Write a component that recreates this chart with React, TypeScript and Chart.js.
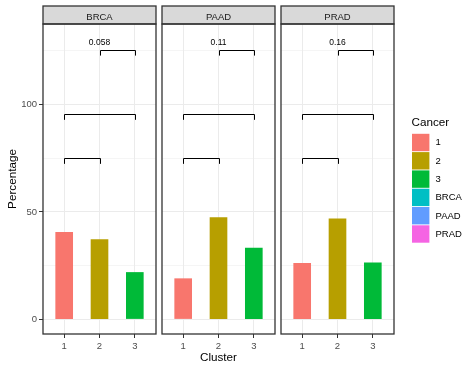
import React, { useEffect, useRef } from 'react';
import { Chart, registerables } from 'chart.js';
Chart.register(...registerables);

// ---------- data ----------
const cancers = ['BRCA', 'PAAD', 'PRAD'];
const clusters = [1, 2, 3];
const brcaValues = [40.7, 37.3, 22.0];
const paadValues = [19.1, 47.6, 33.3];
const pradValues = [26.2, 47.0, 26.5];
const clusterColors = ['#F8766D', '#B79F00', '#00BA38'];
const legendLabels = ['1', '2', '3', 'BRCA', 'PAAD', 'PRAD'];
const legendColors = ['#F8766D', '#B79F00', '#00BA38', '#00BFC4', '#619CFF', '#F564E3'];
const yTicks = [0, 25, 50, 75, 100, 125];
const comparisons = [[1, 2], [1, 3], [2, 3]];
const bracketY = [75, 95.5, 125.4];
const bracketTip = 2.6;
const pValueLabels = ['0.058', '0.11', '0.16'];
const pLabelX = 2;
const pLabelY = 129;
const yMin = -6.8;
const yMax = 137.5;
const xMin = 0.4;
const xMax = 3.6;

const panelValues = [brcaValues, paadValues, pradValues];

// ---------- layout ----------
const W = 474;
const H = 370;
const panelLefts = [43, 162, 281];
const panelWidth = 113;
const panelTop = 24;
const panelBottom = 334;
const stripTop = 6;
const FONT = "'Liberation Sans', Arial, Helvetica, sans-serif";

function makePlugin(i: number) {
  return {
    id: 'facet' + i,
    afterDatasetsDraw(chart: any) {
      const { ctx } = chart;
      const x = chart.scales.x;
      const y = chart.scales.y;
      ctx.save();
      ctx.strokeStyle = '#000000';
      ctx.lineWidth = 1;
      comparisons.forEach(([a, b], k) => {
        const x1 = Math.round(x.getPixelForValue(a)) + 0.5;
        const x2 = Math.round(x.getPixelForValue(b)) + 0.5;
        const yy = Math.round(y.getPixelForValue(bracketY[k])) + 0.5;
        const yt = y.getPixelForValue(bracketY[k] - bracketTip);
        ctx.beginPath();
        ctx.moveTo(x1, yt);
        ctx.lineTo(x1, yy);
        ctx.lineTo(x2, yy);
        ctx.lineTo(x2, yt);
        ctx.stroke();
      });
      ctx.fillStyle = '#000000';
      ctx.font = `8.5px ${FONT}`;
      ctx.textAlign = 'center';
      ctx.textBaseline = 'middle';
      ctx.fillText(pValueLabels[i], x.getPixelForValue(pLabelX), y.getPixelForValue(pLabelY));
      ctx.restore();
    },
    afterDraw(chart: any) {
      const { ctx, chartArea } = chart;
      const { left, right, top, bottom } = chartArea;
      ctx.save();
      // strip
      ctx.fillStyle = '#D9D9D9';
      ctx.fillRect(left, stripTop, right - left, top - stripTop);
      ctx.strokeStyle = '#333333';
      ctx.lineWidth = 1.3;
      ctx.strokeRect(left, stripTop, right - left, top - stripTop);
      ctx.fillStyle = '#1A1A1A';
      ctx.font = `9.5px ${FONT}`;
      ctx.textAlign = 'center';
      ctx.textBaseline = 'alphabetic';
      ctx.fillText(cancers[i], (left + right) / 2, 19.5);
      // panel border
      ctx.strokeRect(left, top, right - left, bottom - top);

      if (i === 0) {
        // axis titles
        ctx.fillStyle = '#000000';
        ctx.font = `11.7px ${FONT}`;
        ctx.textAlign = 'center';
        ctx.textBaseline = 'middle';
        const midX = (panelLefts[0] + panelLefts[2] + panelWidth) / 2;
        ctx.fillText('Cluster', midX, 358);
        ctx.save();
        ctx.translate(13, (top + bottom) / 2);
        ctx.rotate(-Math.PI / 2);
        ctx.fillText('Percentage', 0, 0);
        ctx.restore();
        // legend
        ctx.textAlign = 'left';
        ctx.fillText('Cancer', 411.5, 123);
        ctx.font = `9.5px ${FONT}`;
        legendLabels.forEach((lab, k) => {
          const ky = 133.8 + k * 18.3;
          ctx.fillStyle = legendColors[k];
          ctx.fillRect(412, ky, 17.4, 17.4);
          ctx.fillStyle = '#000000';
          ctx.fillText(lab, 435.5, ky + 8.9);
        });
      }
      ctx.restore();
    },
  };
}

function Panel({ index }: { index: number }) {
  const ref = useRef<HTMLCanvasElement | null>(null);
  useEffect(() => {
    if (!ref.current) return;
    const first = index === 0;
    const chart = new Chart(ref.current, {
      type: 'bar',
      data: {
        datasets: [
          {
            data: clusters.map((c, j) => ({ x: c, y: panelValues[index][j] })) as any,
            backgroundColor: clusterColors,
            borderWidth: 0,
            categoryPercentage: 1,
            barPercentage: 0.5,
          },
        ],
      },
      options: {
        responsive: false,
        animation: false,
        devicePixelRatio: 1,
        layout: {
          padding: {
            left: first ? 0 : panelLefts[index],
            right: W - (panelLefts[index] + panelWidth),
            top: panelTop,
            bottom: 0,
          },
        },
        plugins: { legend: { display: false }, tooltip: { enabled: false } },
        scales: {
          x: {
            type: 'linear',
            min: xMin,
            max: xMax,
            offset: false,
            afterBuildTicks: (s: any) => {
              s.ticks = clusters.map((v) => ({ value: v }));
            },
            afterFit: (s: any) => {
              s.height = H - panelBottom;
            },
            border: { display: false },
            grid: {
              offset: false,
              color: '#EBEBEB',
              lineWidth: 1,
              drawTicks: true,
              tickLength: 4,
              tickColor: '#333333',
              tickWidth: 1,
            },
            ticks: {
              autoSkip: false,
              maxRotation: 0,
              padding: 3,
              color: '#4D4D4D',
              font: { family: FONT, size: 9.5 },
              callback: (v: any) => String(v),
            },
          },
          y: {
            type: 'linear',
            min: yMin,
            max: yMax,
            afterBuildTicks: (s: any) => {
              s.ticks = yTicks.map((v) => ({ value: v }));
            },
            afterFit: (s: any) => {
              s.width = first ? panelLefts[0] : 0;
            },
            border: { display: false },
            grid: {
              color: '#EBEBEB',
              lineWidth: (c: any) => (c.tick && c.tick.value % 50 === 0 ? 1 : 0.5),
              drawTicks: first,
              tickLength: 4,
              tickWidth: 1,
              tickColor: (c: any) => (c.tick && c.tick.value % 50 === 0 ? '#333333' : 'rgba(0,0,0,0)'),
            },
            ticks: {
              display: first,
              padding: 2,
              color: '#4D4D4D',
              font: { family: FONT, size: 9.5 },
              callback: (v: any) => (Number(v) % 50 === 0 ? String(v) : ''),
            },
          },
        },
      },
      plugins: [makePlugin(index)],
    } as any);
    return () => chart.destroy();
  }, [index]);
  return (
    <canvas
      ref={ref}
      width={W}
      height={H}
      style={{ position: 'absolute', left: 0, top: 0, width: W, height: H }}
    />
  );
}

export default function App() {
  return (
    <div style={{ position: 'fixed', left: 0, top: 0, width: W, height: H, background: '#FFFFFF' }}>
      {cancers.map((_, i) => (
        <Panel key={i} index={i} />
      ))}
    </div>
  );
}
